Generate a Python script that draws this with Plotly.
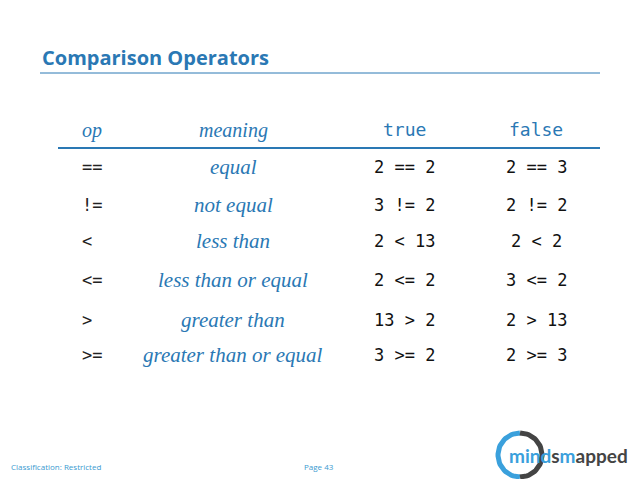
import numpy as np
import plotly.graph_objects as go

ops = ["==", "!=", "<", "<=", ">", ">="]
meanings = ["equal", "not equal", "less than", "less than or equal", "greater than", "greater than or equal"]
true_ex = ["2 == 2", "3 != 2", "2 < 13", "2 <= 2", "13 > 2", "3 >= 2"]
false_ex = ["2 == 3", "2 != 2", "2 < 2", "3 <= 2", "2 > 13", "2 >= 3"]
headers = ["op", "meaning", "true", "false"]

BLUE = "#2a78b4"
row_y = [167, 205, 241, 280, 320, 355]
mono = "DejaVu Sans Mono"
serif = "Liberation Serif"

fig = go.Figure()
ann = []
def txt(x, y, s, size, color, family, xanchor="center"):
    ann.append(dict(x=x, y=y, text=s, showarrow=False, xanchor=xanchor, yanchor="middle",
                    font=dict(size=size, color=color, family=family)))

txt(40, 57, "<b>Comparison Operators</b>", 20, BLUE, "Open Sans", "left")
# header
txt(80, 130, "<i>" + headers[0] + "</i>", 20, BLUE, serif, "left")
txt(233, 130, "<i>" + headers[1] + "</i>", 20, BLUE, serif)
txt(404, 129, headers[2], 18, BLUE, mono)
txt(536, 129, headers[3], 18, BLUE, mono)
for i, y in enumerate(row_y):
    txt(80, y, ops[i], 17, "#222", mono, "left")
    txt(233, y, "<i>" + meanings[i] + "</i>", 21, BLUE, serif)
    txt(404, y, true_ex[i], 17, "#111", mono)
    txt(536, y, false_ex[i], 17, "#111", mono)

txt(9, 466, "Classification: Restricted", 8, "#3a9ad0", "Open Sans", "left")
txt(302, 466, "Page 43", 8, "#3a9ad0", "Open Sans", "left")
txt(507, 455, "<b><span style='color:#3aa0dc'>mind</span><span style='color:#444'>s</span>"
    "<span style='color:#3aa0dc'>m</span><span style='color:#444'>apped</span></b>", 19, "#444", "Lato", "left")

# logo ring
t = np.linspace(np.pi * 0.5, np.pi * 1.5, 40)
fig.add_trace(go.Scatter(x=520 + 22 * np.cos(t), y=455 - 22 * np.sin(t), mode="lines",
                         line=dict(color="#3aa0dc", width=5), hoverinfo="skip"))
t = np.linspace(-np.pi * 0.5, np.pi * 0.5, 40)
fig.add_trace(go.Scatter(x=520 + 22 * np.cos(t), y=455 - 22 * np.sin(t), mode="lines",
                         line=dict(color="#444", width=5), hoverinfo="skip"))

shapes = [
    dict(type="line", x0=40, x1=600, y0=73, y1=73, line=dict(color=BLUE, width=1)),
    dict(type="line", x0=58, x1=600, y0=148, y1=148, line=dict(color=BLUE, width=2)),
]

fig.update_layout(
    width=638, height=479, margin=dict(l=0, r=0, t=0, b=0),
    paper_bgcolor="white", plot_bgcolor="white", showlegend=False,
    xaxis=dict(range=[8, 646], visible=False, fixedrange=True),
    yaxis=dict(range=[487, 8], visible=False, fixedrange=True),
    annotations=ann, shapes=shapes,
)
fig.write_html("out.html")
